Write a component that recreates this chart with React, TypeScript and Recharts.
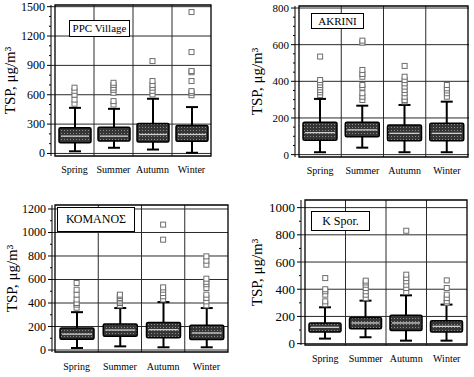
import React from 'react';
import { ComposedChart, Bar, Scatter, XAxis, YAxis, CartesianGrid, ReferenceArea, Label } from 'recharts';

const seasons = ['Spring', 'Summer', 'Autumn', 'Winter'];

// PPC Village
const ppcLow = [22, 58, 40, 7];
const ppcQ1 = [110, 128, 116, 126];
const ppcMed = [177, 177, 194, 194];
const ppcQ3 = [262, 268, 307, 286];
const ppcHigh = [466, 456, 559, 474];
const ppcOut = [
  [508, 550, 600, 640, 672],
  [500, 535, 620, 650, 672, 700, 722],
  [603, 640, 672, 700, 740, 944],
  [595, 620, 637, 740, 830, 842, 1036, 1445],
];

// AKRINI
const akrLow = [13, 38, 13, 13];
const akrQ1 = [78, 98, 76, 76];
const akrMed = [120, 135, 116, 116];
const akrQ3 = [176, 176, 162, 171];
const akrHigh = [304, 267, 271, 289];
const akrOut = [
  [325, 340, 353, 367, 380, 394, 407, 535],
  [298, 316, 335, 366, 380, 425, 440, 462, 611, 622],
  [290, 298, 316, 335, 353, 371, 389, 407, 425, 484],
  [316, 335, 350, 362, 380],
];

// ΚΟΜΑΝΟΣ
const komLow = [17, 31, 23, 23];
const komQ1 = [92, 116, 104, 90];
const komMed = [135, 170, 173, 145];
const komQ3 = [187, 221, 233, 210];
const komHigh = [322, 357, 408, 357];
const komOut = [
  [360, 386, 400, 430, 471, 513, 570],
  [380, 400, 414, 430, 443, 460, 471],
  [430, 457, 485, 513, 533, 939, 1067],
  [380, 414, 443, 471, 528, 560, 580, 607, 726, 760, 797],
];

// K Spor.
const kspLow = [37, 47, 22, 22];
const kspQ1 = [86, 110, 96, 86];
const kspMed = [120, 152, 152, 127];
const kspQ3 = [152, 193, 208, 169];
const kspHigh = [267, 316, 355, 287];
const kspOut = [
  [290, 311, 360, 385, 400, 482],
  [335, 360, 385, 409, 433, 450, 463],
  [380, 409, 433, 458, 482, 507, 830],
  [300, 311, 335, 360, 409, 465],
];

// y-axis tick labels (major) and minor tick values
const ppcTicks = [0, 300, 600, 900, 1200, 1500];
const ppcMinor = [100, 200, 400, 500, 700, 800, 1000, 1100, 1300, 1400];
const akrTicks = [0, 200, 400, 600, 800];
const akrMinor = [50, 100, 150, 250, 300, 350, 450, 500, 550, 650, 700, 750];
const komTicks = [0, 200, 400, 600, 800, 1000, 1200];
const komMinor = [100, 300, 500, 700, 900, 1100];
const kspTicks = [0, 200, 400, 600, 800, 1000];
const kspMinor = [100, 300, 500, 700, 900];

const FONT = '"Liberation Serif", "DejaVu Serif", serif';

type Panel = {
  id: string;
  title: string;
  low: number[]; q1: number[]; med: number[]; q3: number[]; high: number[];
  out: number[][];
  domain: [number, number];
  ticks: number[];
  minor: number[];
  left: number; top: number; w: number; h: number;
  margin: { top: number; right: number; bottom: number; left: number };
  yWidth: number;
  padL: number; padR: number;
  yFont: number;
  labelX: number;
  xTickMargin: number;
  boxW: number;
  legend: { x: number; y: number; w: number; h: number; fs: number };
};

const panels: Panel[] = [
  {
    id: 'ppc', title: 'PPC Village',
    low: ppcLow, q1: ppcQ1, med: ppcMed, q3: ppcQ3, high: ppcHigh, out: ppcOut,
    domain: [-26, 1517], ticks: ppcTicks, minor: ppcMinor,
    left: 0, top: 0, w: 237, h: 188,
    margin: { top: 5, right: 26, bottom: 7, left: 0 }, yWidth: 51,
    padL: 4, padR: 0, yFont: 12, labelX: 10, xTickMargin: 10, boxW: 32,
    legend: { x: 69, y: 20, w: 61, h: 17, fs: 11 },
  },
  {
    id: 'akr', title: 'AKRINI',
    low: akrLow, q1: akrQ1, med: akrMed, q3: akrQ3, high: akrHigh, out: akrOut,
    domain: [-13, 811], ticks: akrTicks, minor: akrMinor,
    left: 237, top: 0, w: 237, h: 188,
    margin: { top: 6, right: 5, bottom: 6, left: 0 }, yWidth: 58,
    padL: 4, padR: 1, yFont: 11, labelX: 20, xTickMargin: 10, boxW: 34,
    legend: { x: 311, y: 13, w: 53, h: 16, fs: 11 },
  },
  {
    id: 'kom', title: 'ΚΟΜΑΝΟΣ',
    low: komLow, q1: komQ1, med: komMed, q3: komQ3, high: komHigh, out: komOut,
    domain: [-17, 1234], ticks: komTicks, minor: komMinor,
    left: 0, top: 188, w: 237, h: 189,
    margin: { top: 17, right: 9, bottom: 0, left: 0 }, yWidth: 52,
    padL: 3, padR: 0, yFont: 12, labelX: 12, xTickMargin: 11, boxW: 34,
    legend: { x: 57, y: 207, w: 78, h: 25, fs: 12 },
  },
  {
    id: 'ksp', title: 'K Spor.',
    low: kspLow, q1: kspQ1, med: kspMed, q3: kspQ3, high: kspHigh, out: kspOut,
    domain: [-10, 1056], ticks: kspTicks, minor: kspMinor,
    left: 237, top: 188, w: 237, h: 189,
    margin: { top: 12, right: 7, bottom: 7, left: 0 }, yWidth: 64,
    padL: 4, padR: 0, yFont: 13, labelX: 20, xTickMargin: 10, boxW: 32,
    legend: { x: 311, y: 211, w: 59, h: 20, fs: 12 },
  },
];

const makeBoxShape = (pid: string) => (props: any) => {
  const { x, y, width, height, payload, index } = props;
  if (x == null || y == null || !payload) return null;
  const lo = payload.low;
  const hi = payload.high;
  const top = Math.min(y, y + height);
  const h = Math.abs(height);
  const ppu = h / (hi - lo);
  const py = (v: number) => top + (hi - v) * ppu;
  const cx = x + width / 2;
  const cap = 12;
  const pat = `pat-${pid}-${index}`;
  const yQ1 = py(payload.q1);
  const yQ3 = py(payload.q3);
  const yMed = py(payload.med);
  return (
    <g>
      <defs>
        <pattern id={pat} width="3" height="3" patternUnits="userSpaceOnUse">
          <rect width="3" height="3" fill="#353535" />
          <rect x="1" y="1" width="1" height="1" fill="#8c8c8c" />
        </pattern>
      </defs>
      <line x1={cx} x2={cx} y1={py(hi)} y2={yQ3} stroke="#000" strokeWidth={2} />
      <line x1={cx} x2={cx} y1={yQ1} y2={py(lo)} stroke="#000" strokeWidth={2} />
      <line x1={cx - cap / 2} x2={cx + cap / 2} y1={py(hi)} y2={py(hi)} stroke="#000" strokeWidth={2} />
      <line x1={cx - cap / 2} x2={cx + cap / 2} y1={py(lo)} y2={py(lo)} stroke="#000" strokeWidth={2} />
      <rect x={x} y={yQ3} width={width} height={yQ1 - yQ3} fill={`url(#${pat})`} stroke="#000" strokeWidth={1.5} rx={1.5} />
      <line x1={x + 2} x2={x + width - 2} y1={yMed} y2={yMed} stroke="#cfcfcf" strokeWidth={1.3} />
    </g>
  );
};

const OutlierShape = (props: any) => {
  const { cx, cy } = props;
  if (cx == null || cy == null) return null;
  return <rect x={cx - 2.5} y={cy - 2.5} width={5} height={5} fill="#fff" stroke="#6e6e6e" strokeWidth={1} />;
};

const applyScale = (scale: any, v: any) => {
  try {
    if (typeof scale === 'function') return scale(v);
    if (scale && typeof scale.map === 'function') return scale.map(v);
  } catch (e) {
    return NaN;
  }
  return NaN;
};

// vertical separators between season bands, from the x-axis scale (fallback: chart offset)
const makeVerticalGen = (p: Panel) => (arg: any) => {
  const scale = arg?.xAxis?.scale;
  let pts: number[] = seasons.slice(1).map((s) => applyScale(scale, s))
    .filter((v: any) => typeof v === 'number' && !isNaN(v));
  if (pts.length !== seasons.length - 1 && arg?.offset) {
    const { left, width } = arg.offset;
    const band = (width - p.padL - p.padR) / seasons.length;
    pts = seasons.slice(1).map((_, i) => left + p.padL + (i + 1) * band);
  }
  return pts;
};

// horizontal grid only at the major ticks
const makeHorizontalGen = (p: Panel) => (arg: any) => {
  const scale = arg?.yAxis?.scale;
  let pts: number[] = p.ticks.map((t) => applyScale(scale, t))
    .filter((v: any) => typeof v === 'number' && !isNaN(v));
  if (pts.length !== p.ticks.length && arg?.offset) {
    const { top, height } = arg.offset;
    const [d0, d1] = p.domain;
    pts = p.ticks.map((t) => top + ((d1 - t) / (d1 - d0)) * height);
  }
  return pts;
};

const makeYTick = (p: Panel) => (props: any) => {
  const { x, y, payload } = props;
  const v = payload?.value;
  const isMajor = p.ticks.includes(v);
  const axisX = x + 6;
  return (
    <g>
      <line x1={axisX - (isMajor ? 4 : 2)} x2={axisX} y1={y} y2={y} stroke="#000" strokeWidth={1} />
      {isMajor && (
        <text x={x} y={y} textAnchor="end" dominantBaseline="central" fontFamily={FONT} fontSize={p.yFont} fill="#000">
          {v}
        </text>
      )}
    </g>
  );
};

function PanelChart({ p }: { p: Panel }) {
  const data = seasons.map((s, i) => ({
    season: s, low: p.low[i], q1: p.q1[i], med: p.med[i], q3: p.q3[i], high: p.high[i],
  }));
  const outliers = seasons.flatMap((s, i) => p.out[i].map((v) => ({ season: s, v })));
  const allTicks = [...p.ticks, ...p.minor].sort((a, b) => a - b);
  const plotMidY = p.margin.top + (p.h - p.margin.top - p.margin.bottom - 25) / 2;
  return (
    <div style={{ position: 'absolute', left: p.left, top: p.top, width: p.w, height: p.h }}>
      <ComposedChart width={p.w} height={p.h} data={data} margin={p.margin}>
        <CartesianGrid
          stroke="#2a2a2a"
          strokeWidth={1}
          verticalCoordinatesGenerator={makeVerticalGen(p)}
          horizontalCoordinatesGenerator={makeHorizontalGen(p)}
        />
        <XAxis
          dataKey="season"
          type="category"
          allowDuplicatedCategory={false}
          height={25}
          padding={{ left: p.padL, right: p.padR }}
          axisLine={false}
          tickLine={false}
          tickSize={0}
          tickMargin={p.xTickMargin}
          interval={0}
          tick={{ fontFamily: FONT, fontSize: 10, fill: '#000' }}
        />
        <YAxis
          type="number"
          domain={p.domain}
          ticks={allTicks}
          allowDataOverflow
          width={p.yWidth}
          axisLine={{ stroke: '#000', strokeWidth: 1 }}
          tickLine={false}
          tickSize={4}
          tickMargin={2}
          interval={0}
          tick={makeYTick(p)}
        >
          <Label
            content={() => {
              const cy = plotMidY;
              const x = p.labelX;
              return (
                <text
                  x={x}
                  y={cy}
                  transform={`rotate(-90 ${x} ${cy})`}
                  textAnchor="middle"
                  dominantBaseline="central"
                  fontFamily={FONT}
                  fontSize={15}
                  fill="#000"
                >
                  TSP, μg/m³
                </text>
              );
            }}
          />
        </YAxis>
        <ReferenceArea y1={p.domain[0]} y2={p.domain[1]} fill="none" stroke="#000" strokeWidth={1.3} ifOverflow="visible" />
        <Bar
          dataKey={(d: any) => [d.low, d.high]}
          barSize={p.boxW}
          isAnimationActive={false}
          shape={makeBoxShape(p.id)}
        />
        <Scatter data={outliers} dataKey="v" isAnimationActive={false} shape={<OutlierShape />} />
      </ComposedChart>
    </div>
  );
}

export default function App() {
  return (
    <div style={{ position: 'absolute', left: 0, top: 0, width: 474, height: 377, background: '#fff', overflow: 'hidden' }}>
      {panels.map((p) => (
        <PanelChart key={p.id} p={p} />
      ))}
      {panels.map((p) => (
        <div
          key={p.id + '-legend'}
          style={{
            position: 'absolute',
            left: p.legend.x,
            top: p.legend.y,
            width: p.legend.w,
            height: p.legend.h,
            boxSizing: 'border-box',
            border: '1px solid #000',
            background: '#fff',
            fontFamily: FONT,
            fontSize: p.legend.fs,
            lineHeight: `${p.legend.h - 2}px`,
            textAlign: 'center',
            color: '#000',
            whiteSpace: 'nowrap',
          }}
        >
          {p.title}
        </div>
      ))}
    </div>
  );
}
